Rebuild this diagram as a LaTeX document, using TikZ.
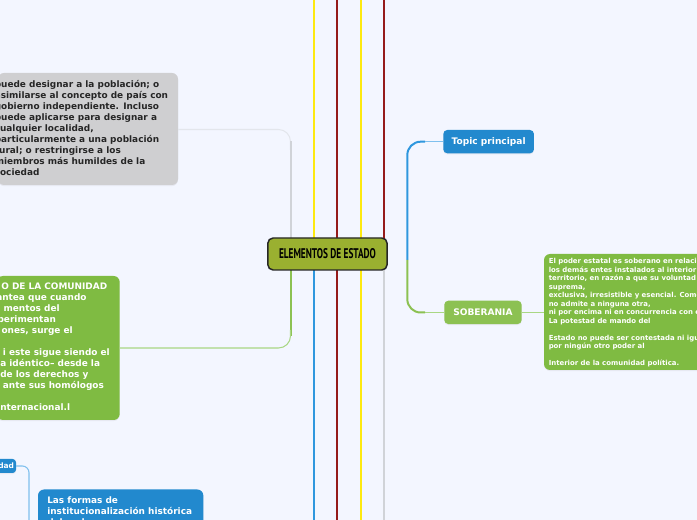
\documentclass[tikz,border=0pt]{standalone}
\usepackage{fontspec}
\usepackage{graphicx}
\usetikzlibrary{shadows}
\setmainfont{DejaVu Sans}
\newfontfamily\titlefont{PT Sans}
\definecolor{bgc}{HTML}{F3F6FF}
\definecolor{greyf}{HTML}{CFCFD1}
\definecolor{greenf}{HTML}{7FBB42}
\definecolor{bluef}{HTML}{2289CE}
\definecolor{rootf}{HTML}{9AB030}
\definecolor{linegrey}{HTML}{D0D3D8}
\definecolor{lineyel}{HTML}{FDE910}
\definecolor{linered}{HTML}{951B1B}
\definecolor{lineblue}{HTML}{2F97DE}
\definecolor{linegreen}{HTML}{8CC152}
\definecolor{lightgrey}{HTML}{E3E6EC}
\definecolor{lightgreen}{HTML}{A9D784}
\definecolor{lightblue}{HTML}{7FC0EE}
\newcommand{\shiftln}[1]{\hspace*{#1pt}}
\tikzset{
  x=0.75pt,y=-0.75pt,
  card/.style={rounded corners=4.5pt,inner sep=0,outer sep=0,anchor=north west,
    drop shadow={opacity=0.10,shadow xshift=0pt,shadow yshift=-0.8pt}},
  bodytext/.style={font=\bfseries\fontsize{6.7pt}{8.25pt}\selectfont,align=left,anchor=north west,inner sep=0},
  smalltext/.style={font=\bfseries\fontsize{5.2pt}{6.375pt}\selectfont,align=left,anchor=north west,inner sep=0,text=white},
  topictext/.style={text=white,font=\bfseries\fontsize{6.8pt}{9pt}\selectfont},
  vline/.style={line width=1.6pt},
  branch/.style={line width=0.8pt},
}
\begin{document}
\begin{tikzpicture}
\useasboundingbox (0,0) rectangle (697,520);
\fill[bgc] (0,0) rectangle (697,520);
\coordinate (y1t) at (313.7,0); \coordinate (y1b) at (313.7,240);
\coordinate (r1t) at (337.2,0); \coordinate (r1b) at (337.2,520);
\coordinate (y2t) at (360.7,0); \coordinate (y2b) at (360.7,520);
\coordinate (r2t) at (384,0); \coordinate (r2b) at (384,240);
\coordinate (b1t) at (313.7,268); \coordinate (b1b) at (313.7,520);
\coordinate (g2t) at (384,268); \coordinate (g2b) at (384,520);
\draw[vline,lineyel] (y1t) -- (y1b);
\draw[vline,linered] (r1t) -- (r1b);
\draw[vline,lineyel] (y2t) -- (y2b);
\draw[vline,linered] (r2t) -- (r2b);
\draw[vline,lineblue] (b1t) -- (b1b);
\draw[vline,linegrey] (g2t) -- (g2b);
% cards
\node[card,fill=greyf,minimum width=135pt,minimum height=84pt] (gris) at (-2,73) {};
\node[card,fill=greenf,minimum width=92pt,minimum height=108pt] (verde) at (-3,276) {};
\node[card,fill=bluef,minimum width=15pt,minimum height=10.5pt,rounded corners=2.5pt] (ciudad) at (-4,459) {};
\node[card,fill=bluef,minimum width=124pt,minimum height=45pt] (formas) at (38,489.5) {};
\node[card,fill=bluef,minimum width=68pt,minimum height=17.5pt,rounded corners=3pt,topictext] (topic) at (443.3,130) {Topic principal};
\node[card,fill=linegreen,minimum width=58pt,minimum height=17.5pt,rounded corners=3pt,topictext] (sob) at (444.3,300.7) {SOBERANIA};
\node[card,fill=greenf,minimum width=130pt,minimum height=87pt] (poder) at (544,254) {};
% connectors
\draw[branch,lightgrey,rounded corners=9pt] (gris.east |- 0,129.5) -- (290.5,129.5) -- (290.5,150);
\draw[line width=1.5pt,linegrey] (290.5,141) -- (290.5,240);
\draw[line width=1.5pt,linegreen] (290.5,268) -- (290.5,336);
\draw[branch,lightgreen,rounded corners=9pt] (290.5,330) -- (290.5,348) -- (verde.east |- 0,348);
\draw[line width=1.5pt,lineblue,rounded corners=10pt] (407.3,260) -- (407.3,141.7) -- (425,141.7);
\draw[branch,lightblue] (425,141.7) -- (topic.west |- 0,141.7);
\draw[line width=1.5pt,linegreen,rounded corners=10pt] (407.3,260) -- (407.3,312.5) -- (425,312.5);
\draw[branch,lightgreen] (425,312.5) -- (sob.west |- 0,312.5);
\draw[branch,lightgreen] (sob.east |- 0,312.5) -- (poder.west |- 0,312.5);
\draw[branch,lightblue,rounded corners=5pt] (ciudad.east |- 0,466) -- (29,466) -- (29,520);
% root
\node[anchor=north west,inner sep=0,outer sep=0,draw=black!85,line width=1.1pt,fill=rootf,rounded corners=4pt,minimum width=89.5pt,minimum height=24pt,text=black] (root) at (267.8,238) {\scalebox{0.665}[1]{\titlefont\bfseries\fontsize{10.5pt}{11pt}\selectfont ELEMENTOS DE ESTADO}};
% text
\node[bodytext,text=black!85] (t1) at (-5.5,80.5) {puede designar a la población; o\\asimilarse al concepto de país con\\gobierno independiente. Incluso\\puede aplicarse para designar a\\cualquier localidad,\\particularmente a una población\\rural; o restringirse a los\\miembros más humildes de la\\sociedad};
\node[bodytext,text=white] (t2) at (0,283) {\shiftln{0.8}O DE LA COMUNIDAD\\\shiftln{-3}antea que cuando\\\shiftln{2.5}mentos del\\\shiftln{-2}perimentan\\\shiftln{1}ones, surge el\\[8.25pt]\shiftln{2}i este sigue siendo el\\a idéntico– desde la\\de los derechos y\\\shiftln{2}ante sus homólogos\\[8.25pt]nternacional.l};
\node[bodytext,text=white,font=\bfseries\fontsize{5.6pt}{7pt}\selectfont] (t3) at (-2,462.5) {dad};
\node[bodytext,text=white] (t4) at (47,496.5) {Las formas de\\institucionalización histórica\\del poder};
\node[smalltext] (t5) at (548.5,258) {El poder estatal es soberano en relación\\los demás entes instalados al interior\\territorio, en razón a que su voluntad\\suprema,\\exclusiva, irresistible y esencial. Como\\no admite a ninguna otra,\\ni por encima ni en concurrencia con ella\\La potestad de mando del\\[6.375pt]Estado no puede ser contestada ni igualada\\por ningún otro poder al\\[6.375pt]Interior de la comunidad política.};
\end{tikzpicture}
\end{document}
